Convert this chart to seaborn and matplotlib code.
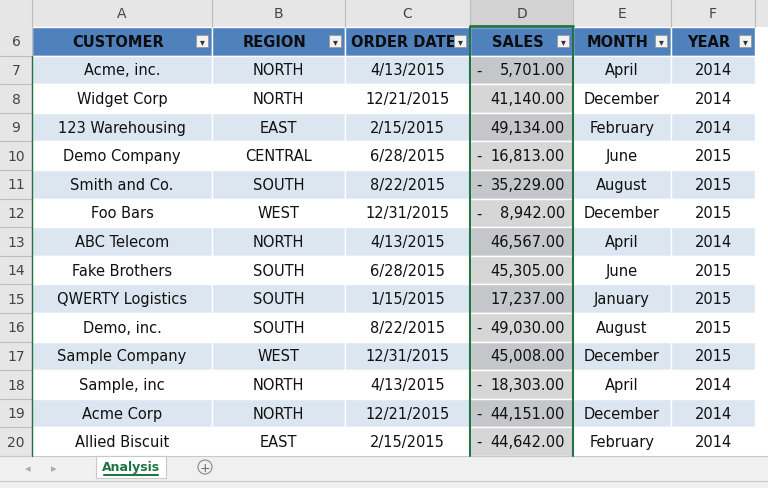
import matplotlib
matplotlib.use("Agg")
import matplotlib.pyplot as plt
from matplotlib.patches import Rectangle
import seaborn as sns

sns.set_theme(style="white", font="DejaVu Sans")

col_letters = ["A", "B", "C", "D", "E", "F"]
headers = ["CUSTOMER", "REGION", "ORDER DATE", "SALES", "MONTH", "YEAR"]
customers = ["Acme, inc.", "Widget Corp", "123 Warehousing", "Demo Company", "Smith and Co.",
             "Foo Bars", "ABC Telecom", "Fake Brothers", "QWERTY Logistics", "Demo, inc.",
             "Sample Company", "Sample, inc", "Acme Corp", "Allied Biscuit"]
regions = ["NORTH", "NORTH", "EAST", "CENTRAL", "SOUTH", "WEST", "NORTH", "SOUTH",
           "SOUTH", "SOUTH", "WEST", "NORTH", "NORTH", "EAST"]
order_dates = ["4/13/2015", "12/21/2015", "2/15/2015", "6/28/2015", "8/22/2015", "12/31/2015",
               "4/13/2015", "6/28/2015", "1/15/2015", "8/22/2015", "12/31/2015", "4/13/2015",
               "12/21/2015", "2/15/2015"]
sales = [-5701, 41140, 49134, -16813, -35229, -8942, 46567, 45305, 17237, -49030,
         45008, -18303, -44151, -44642]
months = ["April", "December", "February", "June", "August", "December", "April", "June",
          "January", "August", "December", "April", "December", "February"]
years = [2014, 2014, 2014, 2015, 2015, 2015, 2014, 2015, 2015, 2015, 2015, 2014, 2014, 2014]
row_numbers = list(range(6, 21))

# layout in pixels
col_edges = [32, 212, 345, 470, 573, 671, 755]
top_h, row_h, head_y = 28, 28.6, 28

fig = plt.figure(figsize=(7.68, 4.89), dpi=100)
ax = fig.add_axes([0, 0, 1, 1])
ax.set_xlim(0, 768)
ax.set_ylim(489, 0)
ax.axis("off")

def rect(x0, y0, w, h, fc, ec="none", lw=0.8, z=1):
    ax.add_patch(Rectangle((x0, y0), w, h, facecolor=fc, edgecolor=ec, lw=lw, zorder=z))

# column letters bar
rect(0, 0, 768, top_h, "#e6e6e6")
for i, letter in enumerate(col_letters):
    x0, x1 = col_edges[i], col_edges[i + 1]
    if letter == "D":
        rect(x0, 0, x1 - x0, top_h, "#d2d2d2")
        ax.plot([x0, x1], [top_h - 1, top_h - 1], color="#217346", lw=2, zorder=3)
    ax.plot([x1, x1], [0, top_h], color="#bdbdbd", lw=0.8, zorder=2)
    ax.text((x0 + x1) / 2, top_h / 2, letter, ha="center", va="center", fontsize=10, color="#444444")

# row numbers column
n_rows = len(row_numbers)
rect(0, top_h, 32, n_rows * row_h, "#e6e6e6")
for r, num in enumerate(row_numbers):
    y = top_h + r * row_h
    ax.plot([0, 32], [y + row_h, y + row_h], color="#bdbdbd", lw=0.8, zorder=2)
    ax.text(16, y + row_h / 2, str(num), ha="center", va="center", fontsize=10, color="#444444")
ax.plot([32, 32], [0, top_h + n_rows * row_h], color="#bdbdbd", lw=0.8, zorder=2)

# header row
for i, h in enumerate(headers):
    x0, x1 = col_edges[i], col_edges[i + 1]
    rect(x0, head_y, x1 - x0, row_h, "#4f81bd", ec="white", lw=1)
    ax.text((x0 + x1) / 2 - 4, head_y + row_h / 2, h, ha="center", va="center",
            fontsize=10.5, fontweight="bold", color="#0d0d0d")
    rect(x1 - 16, head_y + 8, 12, 12, "#f2f2f2", ec="#999999", lw=0.6, z=3)
    ax.text(x1 - 10, head_y + 14.5, "▾", ha="center", va="center", fontsize=7, color="#333333", zorder=4)

# body
cols = [customers, regions, order_dates, sales, months, years]
for r in range(len(customers)):
    y = head_y + (r + 1) * row_h
    stripe = r % 2 == 0
    for i, col in enumerate(cols):
        x0, x1 = col_edges[i], col_edges[i + 1]
        if i == 3:
            fc = "#c4c6c9" if stripe else "#d6d6d6"
        else:
            fc = "#dce6f1" if stripe else "white"
        rect(x0, y, x1 - x0, row_h, fc, ec="white", lw=1)
        v = col[r]
        if i == 3:
            if v < 0:
                ax.text(x0 + 6, y + row_h / 2, "-", ha="left", va="center", fontsize=10.5, color="#111111")
            ax.text(x1 - 8, y + row_h / 2, f"{abs(v):,.2f}", ha="right", va="center",
                    fontsize=10.5, color="#111111")
        else:
            ax.text((x0 + x1) / 2, y + row_h / 2, str(v), ha="center", va="center",
                    fontsize=10.5, color="#111111")

bottom = head_y + (len(customers) + 1) * row_h
# selected column border
ax.plot([col_edges[3], col_edges[3]], [top_h, bottom], color="#217346", lw=1.5, zorder=5)
ax.plot([col_edges[4], col_edges[4]], [top_h, bottom], color="#217346", lw=1.5, zorder=5)
ax.plot([32, 32], [head_y + row_h, bottom], color="#217346", lw=1, zorder=5)

# sheet tab bar
rect(0, bottom, 768, 489 - bottom, "#f0f0f0")
ax.plot([0, 768], [bottom, bottom], color="#c8c8c8", lw=0.8)
ax.text(28, bottom + 12, "◂", ha="center", va="center", fontsize=8, color="#aaaaaa")
ax.text(54, bottom + 12, "▸", ha="center", va="center", fontsize=8, color="#aaaaaa")
rect(96, bottom, 70, 22, "white", ec="#c8c8c8", lw=0.8, z=2)
ax.text(131, bottom + 11, "Analysis", ha="center", va="center", fontsize=9,
        fontweight="bold", color="#217346", zorder=3)
ax.plot([104, 158], [bottom + 19, bottom + 19], color="#217346", lw=1.5, zorder=3)
ax.add_patch(plt.Circle((205, bottom + 11), 7, facecolor="none", edgecolor="#888888", lw=0.8))
ax.text(205, bottom + 11, "+", ha="center", va="center", fontsize=9, color="#666666")
ax.plot([0, 768], [482, 482], color="#c8c8c8", lw=0.8)

fig.savefig("out.png", dpi=100)
